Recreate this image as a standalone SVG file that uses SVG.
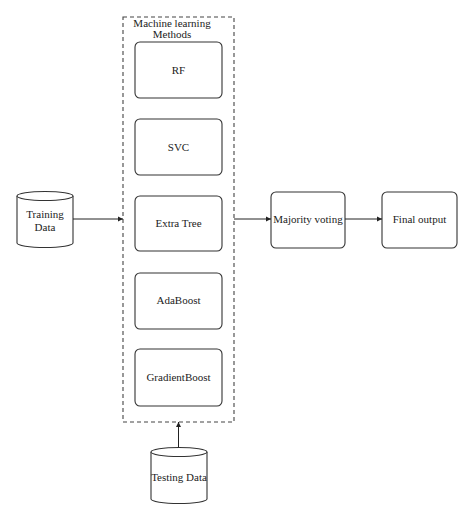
<svg xmlns="http://www.w3.org/2000/svg" width="474" height="520" viewBox="0 0 474 520">
<style>
.box{fill:#fff;stroke:#333;stroke-width:1.1}
.lbl{font-family:"Liberation Serif",serif;font-size:11px;fill:#222;text-anchor:middle}
.edge{stroke:#222;stroke-width:1;fill:none}
</style>
<defs>
<marker id="ah" markerWidth="6" markerHeight="6" refX="5" refY="3" orient="auto" markerUnits="userSpaceOnUse">
<path d="M0,0.5 L5,3 L0,5.5 Z" fill="#222"/>
</marker>
</defs>
<rect width="474" height="520" fill="#fff"/>
<g id="ml-group">
<rect x="123" y="17" width="111" height="405" fill="none" stroke="#444" stroke-width="1.1" stroke-dasharray="4,3"/>
<text class="lbl" x="172" y="27">Machine learning</text>
<text class="lbl" x="172" y="38">Methods</text>
</g>
<g id="rf"><rect class="box" x="135" y="42" width="87" height="56" rx="5"/><text class="lbl" x="178.5" y="74">RF</text></g>
<g id="svc"><rect class="box" x="135" y="119" width="87" height="56" rx="5"/><text class="lbl" x="178.5" y="151">SVC</text></g>
<g id="extratree"><rect class="box" x="135" y="196" width="87" height="55" rx="5"/><text class="lbl" x="178.5" y="227">Extra Tree</text></g>
<g id="adaboost"><rect class="box" x="135" y="273" width="87" height="56" rx="5"/><text class="lbl" x="178.5" y="304">AdaBoost</text></g>
<g id="gradientboost"><rect class="box" x="135" y="349" width="87" height="57" rx="5"/><text class="lbl" x="178.5" y="381">GradientBoost</text></g>
<g id="training">
<path class="box" d="M17,196 L17,243 A28,4.5 0 0 0 73,243 L73,196"/>
<ellipse class="box" cx="45" cy="196" rx="28" ry="4.5"/>
<text class="lbl" x="45" y="218">Training</text>
<text class="lbl" x="45" y="231">Data</text>
</g>
<g id="testing">
<path class="box" d="M151,452 L151,499 A28,4.5 0 0 0 207,499 L207,452"/>
<ellipse class="box" cx="179" cy="452" rx="28" ry="4.5"/>
<text class="lbl" x="179" y="481">Testing Data</text>
</g>
<g id="majority"><rect class="box" x="271" y="192" width="74" height="56" rx="5"/><text class="lbl" x="308" y="223">Majority voting</text></g>
<g id="final"><rect class="box" x="382" y="192" width="75" height="56" rx="5"/><text class="lbl" x="419.5" y="223">Final output</text></g>
<g id="connectors">
<line class="edge" x1="73" y1="219" x2="123" y2="219" marker-end="url(#ah)"/>
<line class="edge" x1="234" y1="219" x2="271" y2="219" marker-end="url(#ah)"/>
<line class="edge" x1="345" y1="219" x2="382" y2="219" marker-end="url(#ah)"/>
<line class="edge" x1="178.5" y1="447.5" x2="178.5" y2="422" marker-end="url(#ah)"/>
</g>
</svg>
